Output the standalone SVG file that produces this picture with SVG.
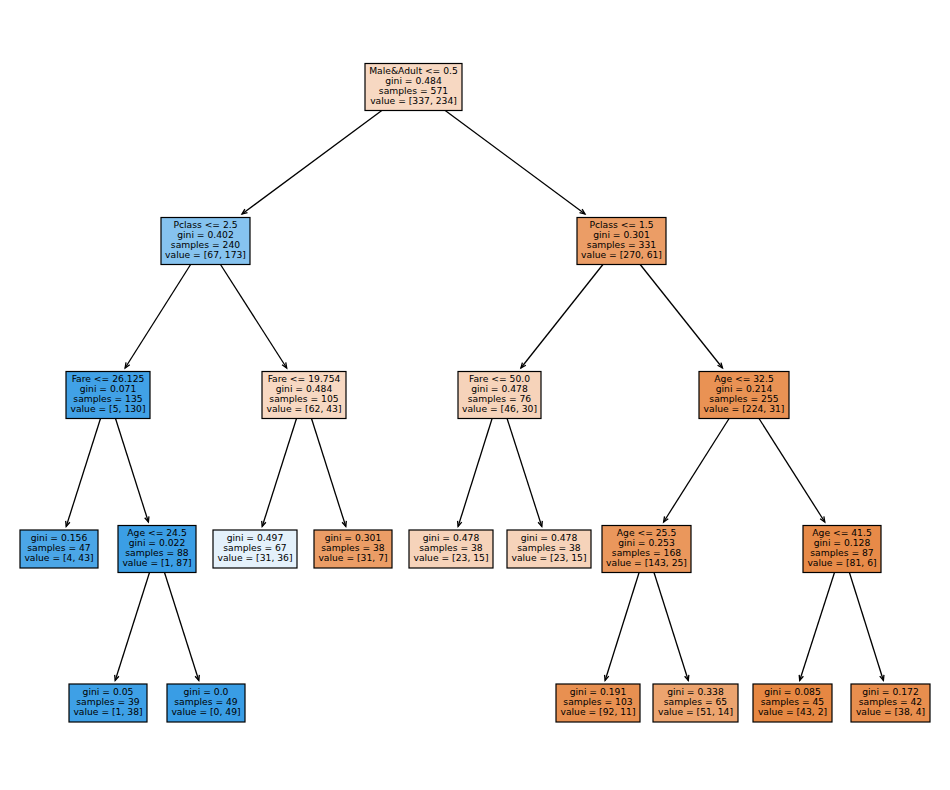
<svg xmlns="http://www.w3.org/2000/svg" width="950" height="790" viewBox="0 0 950 790">
<defs>
<style>
.box{stroke:#000;stroke-width:1.2}
.t{font-family:"DejaVu Sans","Liberation Sans",sans-serif;font-size:9.2px;fill:#000;text-anchor:middle}
.e{stroke:#000;stroke-width:1.3;fill:none;marker-end:url(#ah)}
</style>
<marker id="ah" viewBox="-7 -4 8 8" refX="0" refY="0" markerWidth="8" markerHeight="8" markerUnits="userSpaceOnUse" orient="auto" overflow="visible">
<path d="M-5.2,-2.2 L0,0 L-5.2,2.2" fill="none" stroke="#000" stroke-width="1.3"/>
</marker>
</defs>
<rect width="950" height="790" fill="#fff"/>
<g id="edges">
<line class="e" x1="381.8" y1="110.5" x2="242.0" y2="214"/>
<line class="e" x1="445.2" y1="110.5" x2="585.0" y2="214"/>
<line class="e" x1="190.6" y1="264.5" x2="125.1" y2="368"/>
<line class="e" x1="220.5" y1="264.5" x2="286.7" y2="368"/>
<line class="e" x1="602.9" y1="264.5" x2="520.9" y2="368"/>
<line class="e" x1="640.2" y1="264.5" x2="722.5" y2="368"/>
<line class="e" x1="100.5" y1="418.5" x2="66.2" y2="526.5"/>
<line class="e" x1="115.5" y1="418.5" x2="148.4" y2="522"/>
<line class="e" x1="296.5" y1="418.5" x2="262.2" y2="526.5"/>
<line class="e" x1="311.5" y1="418.5" x2="345.8" y2="526.5"/>
<line class="e" x1="492.1" y1="418.5" x2="458.1" y2="526.5"/>
<line class="e" x1="507.1" y1="418.5" x2="541.8" y2="526.5"/>
<line class="e" x1="729.1" y1="418.5" x2="663.6" y2="522"/>
<line class="e" x1="759.0" y1="418.5" x2="824.8" y2="522"/>
<line class="e" x1="149.5" y1="572.5" x2="115.2" y2="680.5"/>
<line class="e" x1="164.5" y1="572.5" x2="198.8" y2="680.5"/>
<line class="e" x1="639.1" y1="572.5" x2="605.1" y2="680.5"/>
<line class="e" x1="654.0" y1="572.5" x2="688.3" y2="680.5"/>
<line class="e" x1="834.5" y1="572.5" x2="799.7" y2="680.5"/>
<line class="e" x1="849.4" y1="572.5" x2="883.4" y2="680.5"/>
</g>
<g id="n0"><rect class="box" x="365" y="63.5" width="97" height="47" fill="#f7d8c2"/>
<text class="t"><tspan x="413.5" y="73.7">Male&amp;Adult &lt;= 0.5</tspan><tspan x="413.5" y="83.9">gini = 0.484</tspan><tspan x="413.5" y="94.1">samples = 571</tspan><tspan x="413.5" y="104.3">value = [337, 234]</tspan></text></g>
<g id="n1"><rect class="box" x="161" y="217.5" width="89" height="47" fill="#86c3ef"/>
<text class="t"><tspan x="205.5" y="227.7">Pclass &lt;= 2.5</tspan><tspan x="205.5" y="237.9">gini = 0.402</tspan><tspan x="205.5" y="248.1">samples = 240</tspan><tspan x="205.5" y="258.3">value = [67, 173]</tspan></text></g>
<g id="n2"><rect class="box" x="66" y="371.5" width="84" height="47" fill="#41a1e6"/>
<text class="t"><tspan x="108" y="381.7">Fare &lt;= 26.125</tspan><tspan x="108" y="391.9">gini = 0.071</tspan><tspan x="108" y="402.1">samples = 135</tspan><tspan x="108" y="412.3">value = [5, 130]</tspan></text></g>
<g id="n3"><rect class="box" x="20" y="530" width="78" height="38" fill="#4ba6e7"/>
<text class="t"><tspan x="59" y="540.8">gini = 0.156</tspan><tspan x="59" y="551">samples = 47</tspan><tspan x="59" y="561.2">value = [4, 43]</tspan></text></g>
<g id="n4"><rect class="box" x="118" y="525.5" width="78" height="47" fill="#3b9ee5"/>
<text class="t"><tspan x="157" y="535.7">Age &lt;= 24.5</tspan><tspan x="157" y="545.9">gini = 0.022</tspan><tspan x="157" y="556.1">samples = 88</tspan><tspan x="157" y="566.3">value = [1, 87]</tspan></text></g>
<g id="n5"><rect class="box" x="69" y="684" width="78" height="38" fill="#3ea0e6"/>
<text class="t"><tspan x="108" y="694.8">gini = 0.05</tspan><tspan x="108" y="705">samples = 39</tspan><tspan x="108" y="715.2">value = [1, 38]</tspan></text></g>
<g id="n6"><rect class="box" x="167" y="684" width="78" height="38" fill="#399de5"/>
<text class="t"><tspan x="206" y="694.8">gini = 0.0</tspan><tspan x="206" y="705">samples = 49</tspan><tspan x="206" y="715.2">value = [0, 49]</tspan></text></g>
<g id="n7"><rect class="box" x="262" y="371.5" width="84" height="47" fill="#f7d8c2"/>
<text class="t"><tspan x="304" y="381.7">Fare &lt;= 19.754</tspan><tspan x="304" y="391.9">gini = 0.484</tspan><tspan x="304" y="402.1">samples = 105</tspan><tspan x="304" y="412.3">value = [62, 43]</tspan></text></g>
<g id="n8"><rect class="box" x="213" y="530" width="84" height="38" fill="#e4f1fb"/>
<text class="t"><tspan x="255" y="540.8">gini = 0.497</tspan><tspan x="255" y="551">samples = 67</tspan><tspan x="255" y="561.2">value = [31, 36]</tspan></text></g>
<g id="n9"><rect class="box" x="314" y="530" width="78" height="38" fill="#eb9d66"/>
<text class="t"><tspan x="353" y="540.8">gini = 0.301</tspan><tspan x="353" y="551">samples = 38</tspan><tspan x="353" y="561.2">value = [31, 7]</tspan></text></g>
<g id="n10"><rect class="box" x="577" y="217.5" width="89" height="47" fill="#eb9d66"/>
<text class="t"><tspan x="621.5" y="227.7">Pclass &lt;= 1.5</tspan><tspan x="621.5" y="237.9">gini = 0.301</tspan><tspan x="621.5" y="248.1">samples = 331</tspan><tspan x="621.5" y="258.3">value = [270, 61]</tspan></text></g>
<g id="n11"><rect class="box" x="458" y="371.5" width="83" height="47" fill="#f6d3ba"/>
<text class="t"><tspan x="499.5" y="381.7">Fare &lt;= 50.0</tspan><tspan x="499.5" y="391.9">gini = 0.478</tspan><tspan x="499.5" y="402.1">samples = 76</tspan><tspan x="499.5" y="412.3">value = [46, 30]</tspan></text></g>
<g id="n12"><rect class="box" x="409" y="530" width="84" height="38" fill="#f6d3ba"/>
<text class="t"><tspan x="451" y="540.8">gini = 0.478</tspan><tspan x="451" y="551">samples = 38</tspan><tspan x="451" y="561.2">value = [23, 15]</tspan></text></g>
<g id="n13"><rect class="box" x="507" y="530" width="84" height="38" fill="#f6d3ba"/>
<text class="t"><tspan x="549" y="540.8">gini = 0.478</tspan><tspan x="549" y="551">samples = 38</tspan><tspan x="549" y="561.2">value = [23, 15]</tspan></text></g>
<g id="n14"><rect class="box" x="699" y="371.5" width="90" height="47" fill="#e99254"/>
<text class="t"><tspan x="744" y="381.7">Age &lt;= 32.5</tspan><tspan x="744" y="391.9">gini = 0.214</tspan><tspan x="744" y="402.1">samples = 255</tspan><tspan x="744" y="412.3">value = [224, 31]</tspan></text></g>
<g id="n15"><rect class="box" x="602" y="525.5" width="89" height="47" fill="#ea975c"/>
<text class="t"><tspan x="646.5" y="535.7">Age &lt;= 25.5</tspan><tspan x="646.5" y="545.9">gini = 0.253</tspan><tspan x="646.5" y="556.1">samples = 168</tspan><tspan x="646.5" y="566.3">value = [143, 25]</tspan></text></g>
<g id="n16"><rect class="box" x="556" y="684" width="84" height="38" fill="#e89051"/>
<text class="t"><tspan x="598" y="694.8">gini = 0.191</tspan><tspan x="598" y="705">samples = 103</tspan><tspan x="598" y="715.2">value = [92, 11]</tspan></text></g>
<g id="n17"><rect class="box" x="653" y="684" width="85" height="38" fill="#eca46f"/>
<text class="t"><tspan x="695.5" y="694.8">gini = 0.338</tspan><tspan x="695.5" y="705">samples = 65</tspan><tspan x="695.5" y="715.2">value = [51, 14]</tspan></text></g>
<g id="n18"><rect class="box" x="803" y="525.5" width="78" height="47" fill="#e78a48"/>
<text class="t"><tspan x="842" y="535.7">Age &lt;= 41.5</tspan><tspan x="842" y="545.9">gini = 0.128</tspan><tspan x="842" y="556.1">samples = 87</tspan><tspan x="842" y="566.3">value = [81, 6]</tspan></text></g>
<g id="n19"><rect class="box" x="753" y="684" width="79" height="38" fill="#e68742"/>
<text class="t"><tspan x="792.5" y="694.8">gini = 0.085</tspan><tspan x="792.5" y="705">samples = 45</tspan><tspan x="792.5" y="715.2">value = [43, 2]</tspan></text></g>
<g id="n20"><rect class="box" x="851" y="684" width="79" height="38" fill="#e88e4e"/>
<text class="t"><tspan x="890.5" y="694.8">gini = 0.172</tspan><tspan x="890.5" y="705">samples = 42</tspan><tspan x="890.5" y="715.2">value = [38, 4]</tspan></text></g>
</svg>
